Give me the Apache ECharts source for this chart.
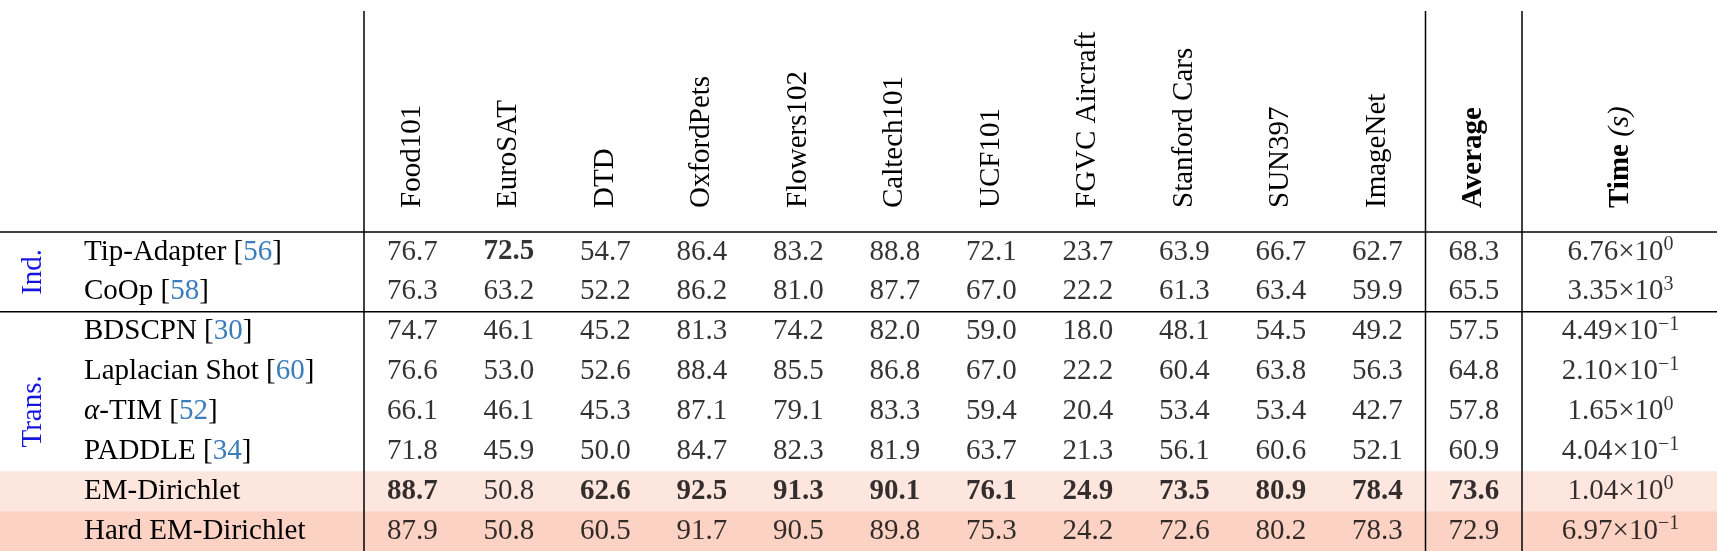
<!DOCTYPE html>
<html>
<head>
<meta charset="utf-8" />
<style>html,body{margin:0;background:#fff}#main{width:1717px;height:551px}</style>
</head>
<body>
<div id="main"></div>
<script src="https://cdn.jsdelivr.net/npm/echarts@6/dist/echarts.min.js"></script>
<script>
// table data
var datasets = ['Food101', 'EuroSAT', 'DTD', 'OxfordPets', 'Flowers102', 'Caltech101', 'UCF101',
    'FGVC Aircraft', 'Stanford Cars', 'SUN397', 'ImageNet', 'Average'];
var methods = ['Tip-Adapter', 'CoOp', 'BDSCPN', 'Laplacian Shot', 'α-TIM', 'PADDLE', 'EM-Dirichlet', 'Hard EM-Dirichlet'];
var refs = ['56', '58', '30', '60', '52', '34', '', ''];
var groups = ['Ind.', 'Trans.'];
var scores = [
    [76.7, 72.5, 54.7, 86.4, 83.2, 88.8, 72.1, 23.7, 63.9, 66.7, 62.7, 68.3],
    [76.3, 63.2, 52.2, 86.2, 81.0, 87.7, 67.0, 22.2, 61.3, 63.4, 59.9, 65.5],
    [74.7, 46.1, 45.2, 81.3, 74.2, 82.0, 59.0, 18.0, 48.1, 54.5, 49.2, 57.5],
    [76.6, 53.0, 52.6, 88.4, 85.5, 86.8, 67.0, 22.2, 60.4, 63.8, 56.3, 64.8],
    [66.1, 46.1, 45.3, 87.1, 79.1, 83.3, 59.4, 20.4, 53.4, 53.4, 42.7, 57.8],
    [71.8, 45.9, 50.0, 84.7, 82.3, 81.9, 63.7, 21.3, 56.1, 60.6, 52.1, 60.9],
    [88.7, 50.8, 62.6, 92.5, 91.3, 90.1, 76.1, 24.9, 73.5, 80.9, 78.4, 73.6],
    [87.9, 50.8, 60.5, 91.7, 90.5, 89.8, 75.3, 24.2, 72.6, 80.2, 78.3, 72.9]
];
var timeMantissa = ['6.76', '3.35', '4.49', '2.10', '1.65', '4.04', '1.04', '6.97'];
var timeExponent = ['0', '3', '−1', '−1', '0', '−1', '0', '−1'];
var best = [[0, 1], [6, 0], [6, 2], [6, 3], [6, 4], [6, 5], [6, 6], [6, 7], [6, 8], [6, 9], [6, 10], [6, 11]];

var FONT = 'Liberation Serif';
var chart = echarts.init(document.getElementById('main'));

function isBest(r, c) {
    return best.some(function (b) { return b[0] === r && b[1] === c; });
}
var cells = [], timeCells = [];
scores.forEach(function (row, r) {
    row.forEach(function (v, c) {
        cells.push({ value: [c, r, v], label: { fontWeight: isBest(r, c) ? 'bold' : 'normal' } });
    });
    timeCells.push([0, r, timeMantissa[r] + '|' + timeExponent[r]]);
});

var option = {
    animation: false,
    textStyle: { fontFamily: FONT, color: '#000' },
    grid: [
        { left: 364, top: 232, width: 1158, height: 319 },
        { left: 1524, top: 232, right: 0, height: 319 }
    ],
    xAxis: [
        {
            type: 'category', gridIndex: 0, position: 'top', data: datasets,
            axisLine: { show: false }, axisTick: { show: false },
            axisLabel: {
                rotate: -90, margin: 24, fontSize: 29, fontFamily: FONT, color: '#000', interval: 0,
                formatter: function (v) { return v === 'Average' ? '{b|' + v + '}' : v; },
                rich: { b: { fontWeight: 'bold', fontSize: 29, fontFamily: FONT } }
            }
        },
        {
            type: 'category', gridIndex: 1, position: 'top', data: ['Time'],
            axisLine: { show: false }, axisTick: { show: false },
            axisLabel: {
                rotate: -90, margin: 24, fontSize: 29, color: '#000',
                formatter: function () { return '{b|Time} {i|(s)}'; },
                rich: { b: { fontWeight: 'bold', fontSize: 29, fontFamily: FONT },
                        i: { fontStyle: 'italic', fontSize: 29, fontFamily: FONT } }
            }
        }
    ],
    yAxis: [
        {
            type: 'category', gridIndex: 0, inverse: true, data: methods,
            axisLine: { show: false }, axisTick: { show: false },
            axisLabel: {
                align: 'left', margin: 280, fontSize: 29, color: '#000',
                formatter: function (v, i) {
                    var name = v.indexOf('α') === 0 ? '{a|α}' + v.slice(1) : v;
                    return refs[i] ? name + ' [{r|' + refs[i] + '}]' : name;
                },
                rich: { r: { color: '#3b7cbd', fontSize: 29, fontFamily: FONT },
                        a: { fontStyle: 'italic', fontSize: 29, fontFamily: FONT } }
            }
        },
        { type: 'category', gridIndex: 1, inverse: true, data: methods, show: false }
    ],
    series: [
        {
            type: 'scatter', xAxisIndex: 0, yAxisIndex: 0, symbolSize: 0, data: cells,
            label: {
                show: true, position: 'inside', fontSize: 29, color: '#000', fontFamily: FONT,
                formatter: function (p) { return p.value[2].toFixed(1); }
            }
        },
        {
            type: 'scatter', xAxisIndex: 1, yAxisIndex: 1, symbolSize: 0, data: timeCells,
            label: {
                show: true, position: 'inside', fontSize: 29, color: '#000', fontFamily: FONT,
                formatter: function (p) {
                    var s = p.value[2].split('|');
                    return s[0] + '×10{s|' + s[1] + '}';
                },
                rich: { s: { fontSize: 20, fontFamily: FONT, verticalAlign: 'top', padding: [0, 0, 14, 0] } }
            }
        }
    ]
};
chart.setOption(option);

// row backgrounds, rules and group labels placed from the axes
function rowY(i) { return chart.convertToPixel({ gridIndex: 0 }, [0, i])[1]; }
var pitch = rowY(1) - rowY(0);
var headY = rowY(0) - pitch / 2;
var colL = chart.convertToPixel({ gridIndex: 0 }, [0, 0])[0] - 48.25;
var avgL = chart.convertToPixel({ gridIndex: 0 }, [11, 0])[0] - 48.25;
var timeL = avgL + 96.5;
var g = [];
g.push({ type: 'rect', z: -1, shape: { x: 0, y: rowY(6) - pitch / 2, width: 1717, height: pitch }, style: { fill: '#fde6de' } });
g.push({ type: 'rect', z: -1, shape: { x: 0, y: rowY(7) - pitch / 2, width: 1717, height: pitch }, style: { fill: '#fbd2c3' } });
[headY, rowY(2) - pitch / 2].forEach(function (y) {
    g.push({ type: 'line', shape: { x1: 0, y1: y, x2: 1717, y2: y }, style: { stroke: '#000', lineWidth: 1.5 } });
});
[colL, avgL, timeL].forEach(function (x) {
    g.push({ type: 'line', shape: { x1: x, y1: 11, x2: x, y2: 551 }, style: { stroke: '#000', lineWidth: 1.5 } });
});
[[groups[0], (rowY(0) + rowY(1)) / 2], [groups[1], (rowY(2) + rowY(6)) / 2]].forEach(function (gl) {
    g.push({ type: 'text', x: 33, y: gl[1], rotation: Math.PI / 2,
        style: { text: gl[0], fill: '#1515e0', fontSize: 29, fontFamily: FONT, align: 'center', verticalAlign: 'middle' } });
});
chart.setOption({ graphic: { elements: g } });
</script>
</body>
</html>
